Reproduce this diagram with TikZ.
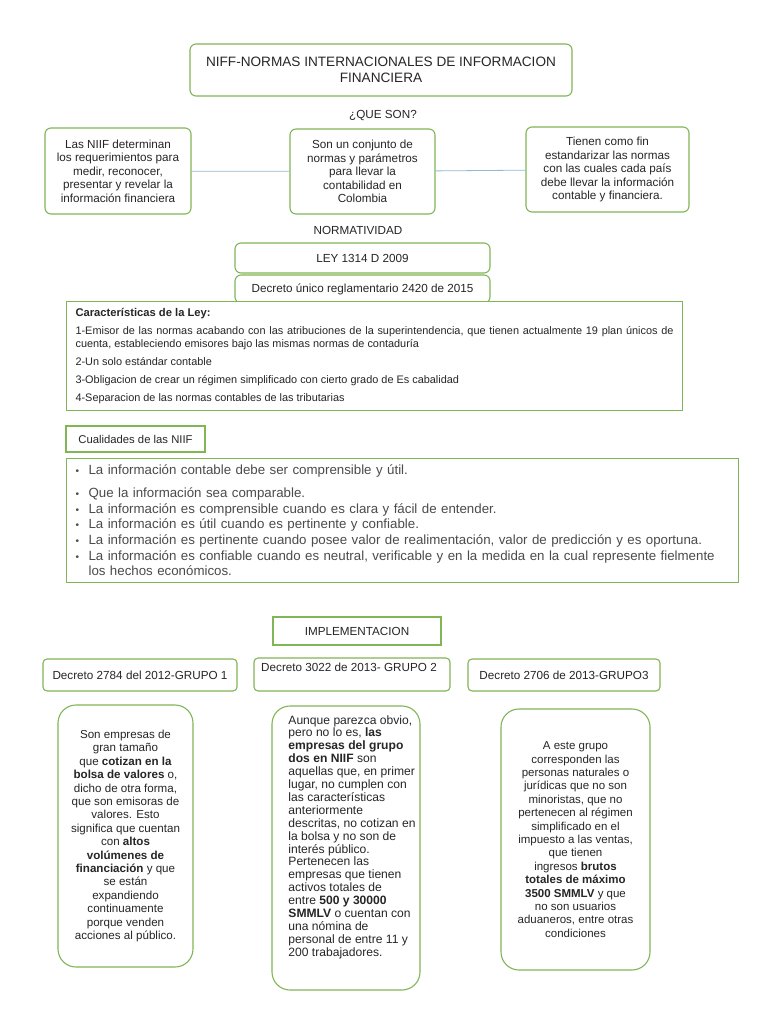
\documentclass[tikz,border=0pt]{standalone}
\usepackage{fontspec}
\setmainfont{Liberation Sans}
\usetikzlibrary{positioning}
\definecolor{bxgreen}{RGB}{128,182,86}
\definecolor{lnblue}{RGB}{150,185,210}
\definecolor{txgray}{RGB}{75,75,75}

\begin{document}
\begin{tikzpicture}[x=1pt, y=-1pt,
    every node/.style={font=\fontsize{11.7}{13.5}\selectfont, text=black!85},
    rb/.style={rectangle, rounded corners=6pt, draw=bxgreen, line width=1.1pt,
               fill=white, align=center, inner sep=0pt},
    tb/.style={rb, rounded corners=18pt},
    sq/.style={rectangle, draw=bxgreen, line width=1.1pt, fill=white, inner sep=0pt},
    lk/.style={lnblue, line width=0.8pt},
    tt/.style={font=\fontsize{11.6}{13.4}\selectfont, align=center}
  ]
  \useasboundingbox (0,0) rectangle (768,1024);
  % title
  \node[rb, minimum width=382, minimum height=52,
        font=\fontsize{13.6}{15.5}\selectfont] (title) at (381,70)
    {NIFF-NORMAS INTERNACIONALES DE INFORMACION\\FINANCIERA};
  \node (queson) at (383,116) {¿QUE SON?};
  % que son
  \node[rb, minimum width=146, minimum height=86] (def) at (118,171)
    {Las NIIF determinan\\los requerimientos para\\medir, reconocer,\\presentar y revelar la\\información financiera};
  \node[rb, minimum width=145, minimum height=85] (conj) at (362.5,171.5)
    {Son un conjunto de\\normas y parámetros\\para llevar la\\contabilidad en\\Colombia};
  \node[rb, minimum width=163, minimum height=85] (fin) at (607.5,169.5)
    {Tienen como fin\\estandarizar las normas\\con las cuales cada país\\debe llevar la información\\contable y financiera.};
  \draw[lk] (def) -- (conj);
  \draw[lk] (conj) -- (fin);
  % normatividad
  \node (norm) at (358,230) {NORMATIVIDAD};
  \node[rb, minimum width=255, minimum height=30] (ley) at (362.5,258) {LEY 1314 D 2009};
  \node[rb, minimum width=255, minimum height=28] (dec) at (362.5,289)
    {Decreto único reglamentario 2420 de 2015};
  \node[sq, anchor=north west, minimum width=616, minimum height=109,
        text width=598, inner xsep=9pt, align=justify,
        font=\fontsize{10.9}{13}\selectfont] (carac) at (66,301) {%
    {\fontsize{11.2}{13}\selectfont\bfseries Características de la Ley:}\\[5pt]
    1-Emisor de las normas acabando con las atribuciones de la superintendencia, que tienen actualmente 19 plan únicos de\linebreak
    cuenta, estableciendo emisores bajo las mismas normas de contaduría\\[5pt]
    2-Un solo estándar contable\\[5pt]
    3-Obligacion de crear un régimen simplificado con cierto grado de Es cabalidad\\[5pt]
    4-Separacion de las normas contables de las tributarias};
  % cualidades
  \node[sq, minimum width=139, minimum height=26, font=\fontsize{11.3}{13}\selectfont]
    (cual) at (135.5,439) {Cualidades de las NIIF};
  \node[sq, anchor=north west, minimum width=672, minimum height=124,
        text width=654, inner xsep=9pt, align=left, text=txgray,
        font=\fontsize{13.3}{15.7}\selectfont] (lista) at (66,458) {%
    \makebox[13pt][l]{\fontsize{10}{10}\selectfont\textbullet}La información contable debe ser comprensible y útil.\\[7pt]
    \makebox[13pt][l]{\fontsize{10}{10}\selectfont\textbullet}Que la información sea comparable.\\
    \makebox[13pt][l]{\fontsize{10}{10}\selectfont\textbullet}La información es comprensible cuando es clara y fácil de entender.\\
    \makebox[13pt][l]{\fontsize{10}{10}\selectfont\textbullet}La información es útil cuando es pertinente y confiable.\\
    \makebox[13pt][l]{\fontsize{10}{10}\selectfont\textbullet}La información es pertinente cuando posee valor de realimentación, valor de predicción y es oportuna.\\
    \makebox[13pt][l]{\fontsize{10}{10}\selectfont\textbullet}La información es confiable cuando es neutral, verificable y en la medida en la cual represente fielmente\\
    \hspace*{13pt}los hechos económicos.};
  % implementacion
  \node[sq, minimum width=168, minimum height=28] (impl) at (357,631) {IMPLEMENTACION};
  \node[rb, rounded corners=4pt, minimum width=194, minimum height=32] (g1) at (140,675)
    {Decreto 2784 del 2012-GRUPO 1};
  \node[rb, rounded corners=4pt, minimum width=196, minimum height=33] (g2) at (352,674.5) {};
  \node (g2h) at (349,667) {Decreto 3022 de 2013- GRUPO 2};
  \node[rb, rounded corners=4pt, minimum width=192, minimum height=32] (g3) at (564,675)
    {Decreto 2706 de 2013-GRUPO3};
  % grupos
  \node[tb, tt, minimum width=135, minimum height=262] (d1) at (125.5,836)
    {Son empresas de\\gran tamaño\\que \textbf{cotizan en la}\\\textbf{bolsa de valores} o,\\dicho de otra forma,\\que son emisoras de\\valores. Esto\\significa que cuentan\\con \textbf{altos}\\\textbf{volúmenes de}\\\textbf{financiación} y que\\se están\\expandiendo\\continuamente\\porque venden\\acciones al público.};
  \node[tb, minimum width=148, minimum height=284] (d2) at (346,848) {};
  \node[tt, align=left, font=\fontsize{12.1}{12.9}\selectfont] (d2t) at (352,837)
    {Aunque parezca obvio,\\pero no lo es, \textbf{las}\\\textbf{empresas del grupo}\\\textbf{dos en NIIF} son\\aquellas que, en primer\\lugar, no cumplen con\\las características\\anteriormente\\descritas, no cotizan en\\la bolsa y no son de\\interés público.\\Pertenecen las\\empresas que tienen\\activos totales de\\entre \textbf{500 y 30000}\\\textbf{SMMLV} o cuentan con\\una nómina de\\personal de entre 11 y\\200 trabajadores.};
  \node[tb, tt, font=\fontsize{11.5}{13.4}\selectfont, minimum width=149, minimum height=261]
    (d3) at (575.5,839.5)
    {A este grupo\\corresponden las\\personas naturales o\\jurídicas que no son\\minoristas, que no\\pertenecen al régimen\\simplificado en el\\impuesto a las ventas,\\que tienen\\ingresos \textbf{brutos}\\\textbf{totales de máximo}\\\textbf{3500 SMMLV} y que\\no son usuarios\\aduaneros, entre otras\\condiciones};
\end{tikzpicture}
\end{document}
